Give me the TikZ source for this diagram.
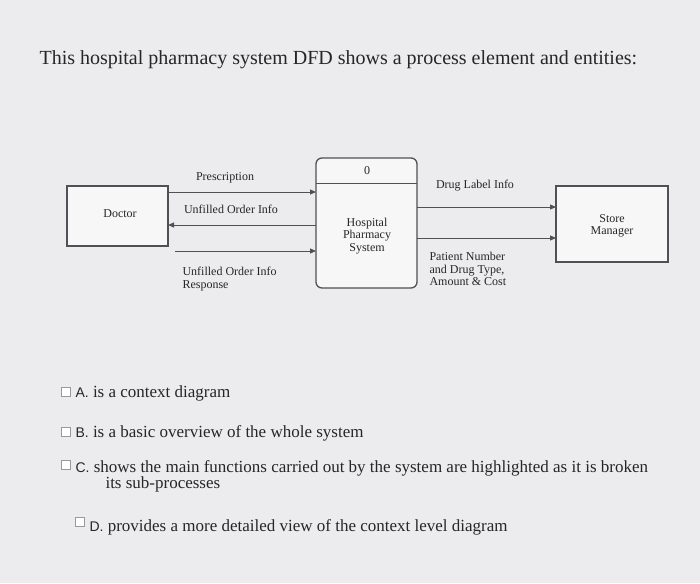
\documentclass[tikz,border=0pt]{standalone}
\usepackage{fontspec}
\setmainfont{Liberation Serif}
\setsansfont{Liberation Sans}
\usetikzlibrary{arrows.meta}
\definecolor{bg}{RGB}{236,236,238}
\definecolor{ln}{RGB}{80,80,85}
\begin{document}
\begin{tikzpicture}[x=1pt,y=-1pt,
  ent/.style={draw=ln,line width=1.3pt,fill=white!60!bg},
  flow/.style={draw=ln,line width=1pt,-{Triangle[length=6pt,width=5pt]}},
  lab/.style={font=\fontsize{12}{12.5}\selectfont,text=black!85,align=left},
  opt/.style={font=\fontsize{17}{18}\selectfont,anchor=west,align=left,text=black!85},
  cb/.style={draw=black!40,fill=white,minimum size=9pt,inner sep=0pt}]
\useasboundingbox[fill=bg] (0,0) rectangle (700,583);
\node[anchor=west,font=\fontsize{20}{22}\selectfont,text=black!85] (title) at (36,60) {This hospital pharmacy system DFD shows a process element and entities:};
\node[ent,minimum width=101pt,minimum height=60pt] (doc) at (117.5,216) {};
\node[lab] at (120,214) {Doctor};
\node[ent,rounded corners=6pt,minimum width=101pt,minimum height=130pt] (proc) at (366.5,223) {};
\draw[draw=ln,line width=1pt] (316,183) -- (417,183);
\node[lab] (zero) at (367,171) {0};
\node[lab,align=center] (pname) at (367,236) {Hospital\\Pharmacy\\System};
\node[ent,minimum width=112pt,minimum height=76pt] (sm) at (612,224) {};
\node[lab,align=center] at (612,226) {Store\\Manager};
\coordinate (d1) at (168,192); \coordinate (p1) at (316,192);
\coordinate (p2) at (316,225); \coordinate (d2) at (168,225);
\coordinate (d3) at (175,251); \coordinate (p3) at (316,251);
\coordinate (p4) at (417,207); \coordinate (s4) at (556,207);
\coordinate (p5) at (417,238); \coordinate (s5) at (556,238);
\draw[flow] (d1) -- (p1);
\draw[flow] (p2) -- (d2);
\draw[flow] (d3) -- (p3);
\draw[flow] (p4) -- (s4);
\draw[flow] (p5) -- (s5);
\node[lab] at (225,178) {Prescription};
\node[lab] at (231,209) {Unfilled Order Info};
\node[lab,anchor=north west] at (179,264) {Unfilled Order Info\\Response};
\node[lab] at (475,186) {Drug Label Info};
\node[lab,anchor=north west,align=left] at (426,249) {Patient Number\\and Drug Type,\\Amount \& Cost};
\node[cb] (c1) at (66,392) {}; \node[opt] at (72,393) {\textsf{\fontsize{14}{14}\selectfont A.} is a context diagram};
\node[cb] (c2) at (66,432) {}; \node[opt] at (72,433) {\textsf{\fontsize{14}{14}\selectfont B.} is a basic overview of the whole system};
\node[cb] (c3) at (66,465) {}; \node[opt,anchor=north west] at (72,457) {\textsf{\fontsize{14}{14}\selectfont C.} shows the main functions carried out by the system are highlighted as it is broken\\[-2pt]\hspace*{30pt}its sub-processes};
\node[cb] (c4) at (80,522) {}; \node[opt] at (86,527) {\textsf{\fontsize{14}{14}\selectfont D.} provides a more detailed view of the context level diagram};
\end{tikzpicture}
\end{document}
